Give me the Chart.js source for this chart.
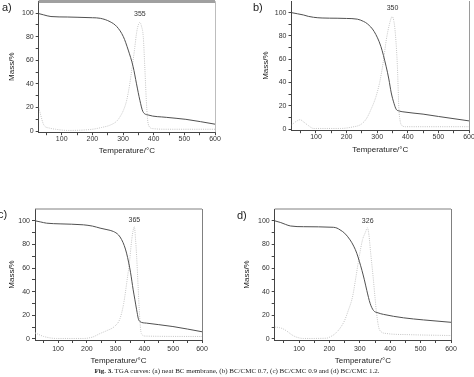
<!DOCTYPE html>
<html><head><meta charset="utf-8">
<script src="https://cdn.jsdelivr.net/npm/chart.js@4/dist/chart.umd.min.js"></script>
<style>
html,body{margin:0;padding:0;background:#fff;overflow:hidden;width:474px;height:377px;position:relative;font-family:"Liberation Sans",Arial,sans-serif}
canvas{position:absolute}
.lab{position:absolute;font-size:11px;color:#222;line-height:11px;font-family:"Liberation Sans",Arial,sans-serif}
#cap{position:absolute;left:0;width:474px;top:367px;text-align:center;font-family:"Liberation Serif","Times New Roman",serif;font-size:7px;line-height:8px;color:#222;white-space:nowrap}
</style></head><body>
<canvas id="ca" width="237" height="160" style="left:0;top:0"></canvas>
<canvas id="cb" width="237" height="160" style="left:237px;top:0"></canvas>
<canvas id="cc" width="237" height="200" style="left:0;top:170px"></canvas>
<canvas id="cd" width="237" height="200" style="left:237px;top:170px"></canvas>
<div class="lab" style="left:2px;top:2px">a)</div>
<div class="lab" style="left:253px;top:2px">b)</div>
<div class="lab" style="left:-2px;top:209px">c)</div>
<div class="lab" style="left:237px;top:210px">d)</div>
<div id="cap"><b>Fig. 3.</b> TGA curves: (a) neat BC membrane, (b) BC/CMC 0.7, (c) BC/CMC 0.9 and (d) BC/CMC 1.2.</div>
<script>
// ---- data ----
const xTickValues = [50,100,150,200,250,300,350,400,450,500,550,600];
const xTickLabels = [100,200,300,400,500,600];
const yTickValues = [0,10,20,30,40,50,60,70,80,90,100];
const yTickLabels = [0,20,40,60,80,100];
const panelNames = ["a)","b)","c)","d)"];
const peakTemps = [355,350,365,326];

// (a) neat BC membrane
const massA_T = [25,40,65,118,150,200,226,258,280,301,317,333,344,355,365,382,441,505,600];
const massA_V = [99.5,98.5,97,96.6,96.4,96,95.5,92.6,88.4,80,68.6,54.5,40,26,16.4,13.6,11.6,9.9,5.8];
const dtgA_T  = [25,30,42,60,80,120,200,230,258,280,290,302,312,322,330,338,344,350,355,360,366,371,376,380,385,398,450,600];
const dtgA_V  = [20,15,5,2.5,1.5,0.5,1.5,3,5,8.5,12,18,26,40,54.5,70,82.8,90,92,89,80,54.5,26,10,4,2,1.5,1.5];

// (b) BC/CMC 0.7
const massB_T = [20,40,59,75,92,120,169,200,235,255,268,290,312,329,338,346,355,362,372,384,450,500,600];
const massB_V = [100,99,98,96.8,96,95.4,95.2,95,94.4,92.5,90.4,83.8,71,54,43,31,22,17,15.5,14.8,12.8,10.8,7];
const dtgB_T  = [20,35,48,60,75,92,180,220,247,265,280,295,308,320,330,340,349,355,360,366,371,375,378,392,600];
const dtgB_V  = [3.5,6.5,8,6,3,0.5,0.5,1.8,4,9,17,27,40,58,77,90,96.6,92,80,54,17,7,4,2,2];

// (c) BC/CMC 0.9
const massC_T = [20,40,60,107,188,220,246,270,292,310,321,330,338,345,352,361,367,373,379,384,407,450,499,600];
const massC_V = [100,99,98,97.4,96.6,95.5,93.8,92.5,91,88,84,79,72.6,65,56,41.5,33,24.6,17,14.7,13.3,12,10.4,6];
const dtgC_T  = [20,30,50,95,188,220,246,270,296,315,328,340,348,356,361,365,369,373,378,382,386,390,405,600];
const dtgC_V  = [5,4,2,0.3,0.3,1.5,4.5,7,10.5,17,30,50,65,84,92,95,85,70,45,25,10,4,2.3,2];

// (d) BC/CMC 1.2
const massD_T = [20,40,55,72,115,213,225,235,250,268,280,290,307,315,323,334,345,360,378,444,510,600];
const massD_V = [100,98.5,97,95.6,95,94.5,93.8,92.3,89.5,83.8,78.5,72.5,58,50,41,30,24,22,20.7,17.8,16,14];
const dtgD_T  = [20,35,47,60,80,100,115,190,205,217,235,250,262,276,287,298,309,318,325,330,336,344,350,355,362,370,388,465,600];
const dtgD_V  = [10,9.5,8.5,6.5,2.8,0.8,0.3,0.5,2,4,9,15.6,24,35.5,52,69.6,84,90,94,88,72,52,35,22,10,6,4.5,3.5,2.8];

// ---- chart construction ----
const zip = (T,V) => T.map((t,i)=>({x:t,y:V[i]}));
const AX = '#444', TXT = '#333';

const framePlugin = {
  id:'frame',
  afterDatasetsDraw(chart, args, o){
    const {ctx, chartArea:a} = chart;
    ctx.save();
    if (o.top){ ctx.strokeStyle=o.top; ctx.lineWidth=o.topWidth||1; ctx.beginPath(); ctx.moveTo(a.left,a.top+(o.topOff||0)); ctx.lineTo(a.right,a.top+(o.topOff||0)); ctx.stroke(); }
    if (o.right){ ctx.strokeStyle=o.right; ctx.lineWidth=1; ctx.beginPath(); ctx.moveTo(Math.round(a.right)+0.5,a.top); ctx.lineTo(Math.round(a.right)+0.5,a.bottom); ctx.stroke(); }
    ctx.restore();
  }
};
const peakPlugin = {
  id:'peak',
  afterDatasetsDraw(chart, args, o){
    const ds = chart.data.datasets[1].data;
    let m = ds[0]; ds.forEach(p=>{ if(p.y>m.y) m=p; });
    const x = chart.scales.x.getPixelForValue(o.temp);
    const y = chart.scales.y.getPixelForValue(m.y) - o.dy;
    const ctx = chart.ctx; ctx.save();
    ctx.font = '7px "Liberation Sans", Arial, sans-serif'; ctx.fillStyle = TXT;
    ctx.textAlign='center'; ctx.textBaseline='middle';
    ctx.fillText(String(o.temp), x, y); ctx.restore();
  }
};

function makeChart(id, cfg){
  const ctx = document.getElementById(id);
  return new Chart(ctx, {
    type:'line',
    data:{datasets:[
      {data:zip(cfg.mT,cfg.mV), borderColor:'#505050', borderWidth:1, pointRadius:0, cubicInterpolationMode:'monotone', fill:false},
      {data:zip(cfg.dT,cfg.dV), borderColor:'#c4c4c4', borderWidth:1, borderDash:[1,1.2], pointRadius:0, cubicInterpolationMode:'monotone', fill:false}
    ]},
    options:{
      responsive:false, animation:false, devicePixelRatio:1,
      layout:{padding:cfg.pad},
      plugins:{legend:{display:false}, tooltip:{enabled:false},
        frame:cfg.frame, peak:{temp:cfg.peak, dy:cfg.dy}},
      scales:{
        x:{type:'linear', min:cfg.xmin, max:600,
          afterBuildTicks:s=>{ s.ticks = xTickValues.map(v=>({value:v})); },
          afterFit:s=>{ s.height=cfg.xh; s.paddingLeft=0; s.paddingRight=0; },
          ticks:{autoSkip:false, maxRotation:0, padding:cfg.xtp, color:TXT, font:{size:7, family:'"Liberation Sans", Arial, sans-serif'},
            callback:v=> xTickLabels.includes(v) ? String(v) : ''},
          grid:{drawOnChartArea:false, drawTicks:true, tickLength:3, color:AX},
          border:{color:AX, width:1},
          title:{display:true, text:'Temperature/°C', color:'#222', padding:0, font:{size:8, family:'"Liberation Sans", Arial, sans-serif'}}
        },
        y:{type:'linear', min:-1, max:110,
          afterBuildTicks:s=>{ s.ticks = yTickValues.map(v=>({value:v})); },
          afterFit:s=>{ s.width=cfg.yw; s.paddingTop=0; s.paddingBottom=0; },
          ticks:{autoSkip:false, padding:2, color:TXT, font:{size:7, family:'"Liberation Sans", Arial, sans-serif'},
            callback:v=> yTickLabels.includes(v) ? String(v) : ''},
          grid:{drawOnChartArea:false, drawTicks:true, tickLength:3, color:AX},
          border:{color:AX, width:1},
          title:{display:true, text:'Mass/%', color:'#222', padding:0, font:{size:8, family:'"Liberation Sans", Arial, sans-serif'}}
        }
      }
    },
    plugins:[framePlugin, peakPlugin]
  });
}

makeChart('ca',{mT:massA_T,mV:massA_V,dT:dtgA_T,dV:dtgA_V, xmin:25, peak:peakTemps[0], dy:8,
  pad:{left:7.2,right:22,top:1.2,bottom:4.2}, yw:31.5, xh:23.6, xtp:0,
  frame:{top:'#a0a0a0', topWidth:3, topOff:0.3, right:'#bdbdbd'}});
makeChart('cb',{mT:massB_T,mV:massB_V,dT:dtgB_T,dV:dtgB_V, xmin:20, peak:peakTemps[1], dy:9,
  pad:{left:24.2,right:5,top:1,bottom:5.2}, yw:30.3, xh:24.6, xtp:0,
  frame:{right:'#9a9a9a'}});
makeChart('cc',{mT:massC_T,mV:massC_V,dT:dtgC_T,dV:dtgC_V, xmin:20, peak:peakTemps[2], dy:7,
  pad:{left:7.2,right:35,top:39,bottom:4.2}, yw:27.8, xh:25.8, xtp:2,
  frame:{top:'#808080', right:'#808080'}});
makeChart('cd',{mT:massD_T,mV:massD_V,dT:dtgD_T,dV:dtgD_V, xmin:20, peak:peakTemps[3], dy:7,
  pad:{left:5.2,right:23,top:39,bottom:4.2}, yw:32.5, xh:25.8, xtp:2,
  frame:{top:'#808080', right:'#808080'}});
</script>
</body></html>
